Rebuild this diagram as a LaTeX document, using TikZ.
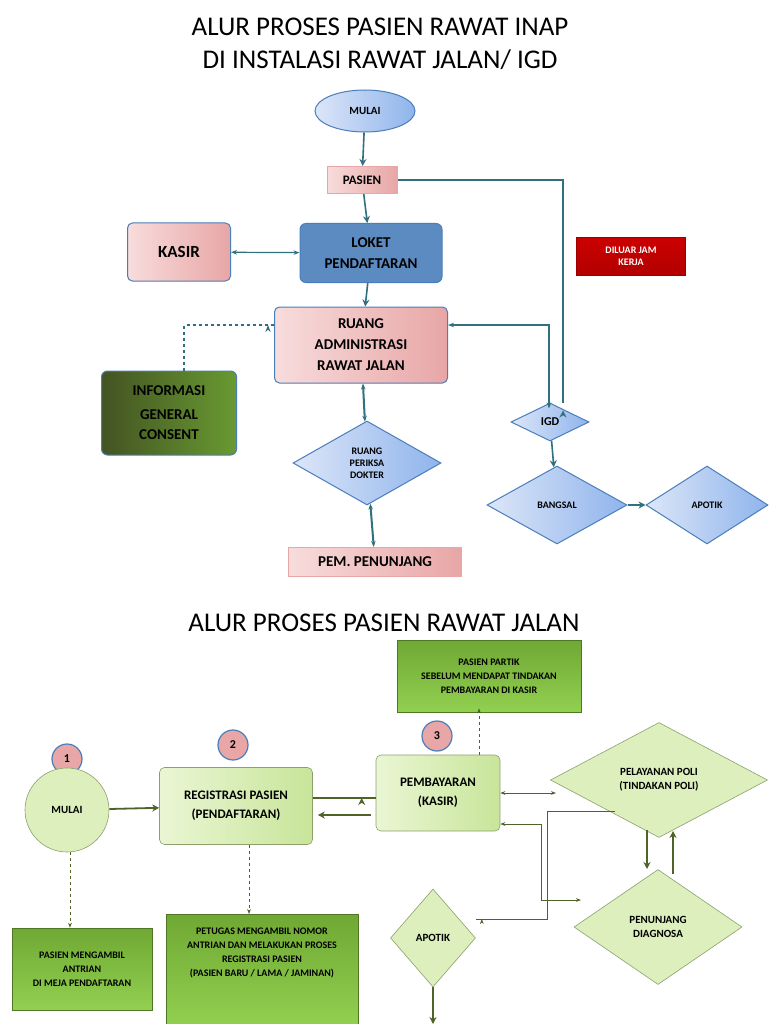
\documentclass[tikz,border=0pt]{standalone}
\usepackage{fontspec}
\setmainfont{Carlito}
\usetikzlibrary{shapes.geometric,arrows.meta}
\definecolor{teal1}{HTML}{31707F}
\definecolor{olv}{HTML}{4F6228}
\definecolor{bline}{HTML}{4A7EBB}
\definecolor{pinkA}{HTML}{F8DCDC}
\definecolor{pinkB}{HTML}{E8A6A6}
\definecolor{blueA}{HTML}{DCE6F8}
\definecolor{blueB}{HTML}{8FB4EC}
\definecolor{grA}{HTML}{EAF6D4}
\definecolor{grB}{HTML}{C8E59A}
\definecolor{dgA}{HTML}{6FA834}
\definecolor{dgB}{HTML}{92D050}
\begin{document}
\begin{tikzpicture}[x=1pt,y=-1pt,font=\bfseries,
  ta/.style={draw=teal1,line width=1.6pt,-{Stealth[length=7pt,width=7pt]}},
  tb/.style={draw=teal1,line width=1.2pt,{Stealth[length=6pt]}-{Stealth[length=6pt]}},
  ga/.style={draw=olv,line width=1.8pt,-{Stealth[length=7pt,width=7pt]}},
  gt/.style={draw=olv,line width=1pt,{Stealth[length=5pt]}-{Stealth[length=5pt]}},
  gd/.style={draw=olv,line width=0.8pt,dashed,-{Stealth[length=5pt]}},
  pk/.style={draw=bline,line width=1pt,left color=pinkA,right color=pinkB,align=center,rounded corners=5pt,inner sep=0pt},
  bd/.style={diamond,draw=bline,line width=1pt,left color=blueA,right color=blueB,align=center,inner sep=0pt,font=\bfseries\fontsize{10}{12}\selectfont},
  gb/.style={draw=grB!70!black,line width=0.6pt,left color=grA,right color=grB,align=center,rounded corners=5pt,inner sep=0pt},
  gdia/.style={diamond,draw=grB!70!black,line width=0.6pt,fill=grA!60!grB,align=center,inner sep=0pt,font=\bfseries\fontsize{11}{14}\selectfont},
  gbox/.style={draw=dgA!70!black,line width=0.6pt,top color=dgA,bottom color=dgB,align=center,inner sep=0pt,font=\bfseries\fontsize{10}{14}\selectfont},
  num/.style={circle,draw=bline,line width=1.2pt,fill=pinkB,minimum size=30pt,inner sep=0pt,font=\bfseries\fontsize{12}{14}\selectfont}]
\useasboundingbox (0,0) rectangle (768,1024);
\fill[white] (0,0) rectangle (768,1024);
% ===== top =====
\node[font=\fontsize{27}{33}\selectfont,align=center] (t1) at (380,44) {ALUR PROSES PASIEN RAWAT INAP\\DI INSTALASI RAWAT JALAN/ IGD};
\node[ellipse,draw=bline,line width=1pt,left color=blueA,right color=blueB,minimum width=100pt,minimum height=42pt,font=\bfseries\fontsize{11}{13}\selectfont] (mulai) at (365,111) {MULAI};
\node[pk,draw=pinkB,rounded corners=0pt,minimum width=70pt,minimum height=27pt,font=\bfseries\fontsize{13}{15}\selectfont] (pasien) at (362,180) {PASIEN};
\node[draw=bline,line width=1pt,fill=bline!90,rounded corners=6pt,minimum width=142pt,minimum height=59pt,align=center,font=\bfseries\fontsize{15}{21}\selectfont] (loket) at (371,253) {LOKET\\PENDAFTARAN};
\node[pk,minimum width=103pt,minimum height=58pt,font=\bfseries\fontsize{17}{20}\selectfont] (kasir) at (179,252) {KASIR};
\node[pk,minimum width=173pt,minimum height=76pt,font=\bfseries\fontsize{15}{21}\selectfont] (ruang) at (361,345) {RUANG\\ADMINISTRASI\\RAWAT JALAN};
\node[draw=bline,line width=1pt,left color=olv!85!black,right color=dgA!80!olv,rounded corners=6pt,minimum width=135pt,minimum height=84pt,align=center,font=\bfseries\fontsize{15}{20}\selectfont] (info) at (169,413) {INFORMASI\\[4pt]GENERAL\\CONSENT};
\node[bd,minimum width=148pt,minimum height=84pt] (periksa) at (367,463) {RUANG\\PERIKSA\\DOKTER};
\node[pk,draw=pinkB,rounded corners=0pt,minimum width=173pt,minimum height=29pt,font=\bfseries\fontsize{15}{17}\selectfont] (pem) at (375,562) {PEM. PENUNJANG};
\node[bd,minimum width=78pt,minimum height=38pt,font=\bfseries\fontsize{12}{14}\selectfont] (igd) at (550,422) {IGD};
\node[bd,minimum width=140pt,minimum height=78pt] (bangsal) at (557,505) {BANGSAL};
\node[bd,minimum width=122pt,minimum height=78pt] (apotik1) at (707,505) {APOTIK};
\node[draw=red!60!black,line width=0.6pt,top color=red!80!black,bottom color=red!70!black,minimum width=109pt,minimum height=38pt,align=center,text=white,font=\bfseries\fontsize{10}{12}\selectfont] (diluar) at (631,256) {DILUAR JAM\\KERJA};
\draw[ta] (mulai) -- (pasien);
\draw[ta] (pasien) -- (loket);
\draw[tb] (kasir) -- (loket);
\draw[ta] (loket) -- (ruang);
\draw[tb,line width=2pt] (ruang) -- (periksa);
\draw[tb,line width=2pt] (periksa) -- (pem);
\draw[teal1,line width=1.6pt,dashed,-{Stealth[length=7pt]}] (info.north -| 184,0) |- (ruang.west |- 0,325) ++(-6,0);
\draw[ta] (pasien.east) -| (igd.north -| 563,0) ++(0,8);
\draw[tb,line width=1.6pt] (ruang.east |- 0,325) -| ([xshift=-1pt,yshift=-6pt]igd.north);
\draw[ta] (igd) -- (bangsal);
\draw[ta] (bangsal) -- (apotik1);
% ===== bottom =====
\node[font=\fontsize{27}{33}\selectfont] (t2) at (384,623) {ALUR PROSES PASIEN RAWAT JALAN};
\node[gbox,minimum width=184pt,minimum height=72pt] (partik) at (489,676) {PASIEN PARTIK\\SEBELUM MENDAPAT TINDAKAN\\PEMBAYARAN DI KASIR};
\node[num] (n1) at (67,759) {1};
\node[num] (n2) at (233,745) {2};
\node[num] (n3) at (437,736) {3};
\node[circle,draw=grB!70!black,line width=0.6pt,fill=grA!60!grB,minimum size=84pt,inner sep=0pt,font=\bfseries\fontsize{11}{13}\selectfont] (m2) at (67,810) {MULAI};
\node[gb,minimum width=153pt,minimum height=77pt,font=\bfseries\fontsize{13}{19}\selectfont] (reg) at (236,806) {REGISTRASI PASIEN\\(PENDAFTARAN)};
\node[gb,minimum width=124pt,minimum height=76pt,font=\bfseries\fontsize{13}{19}\selectfont] (bayar) at (438,793) {PEMBAYARAN\\(KASIR)};
\node[gdia,minimum width=217pt,minimum height=115pt] (poli) at (659,780) {PELAYANAN POLI\\(TINDAKAN POLI)};
\node[gdia,minimum width=168pt,minimum height=115pt] (penunjang) at (658,927) {PENUNJANG\\DIAGNOSA};
\node[gdia,minimum width=85pt,minimum height=98pt] (apotik2) at (433,938) {APOTIK};
\node[gbox,minimum width=140pt,minimum height=82pt] (b1) at (82,969) {PASIEN MENGAMBIL\\ANTRIAN\\DI MEJA PENDAFTARAN};
\node[gbox,minimum width=192pt,minimum height=112pt,anchor=north] (b2) at (262,914) {PETUGAS MENGAMBIL NOMOR\\ANTRIAN DAN MELAKUKAN PROSES\\REGISTRASI PASIEN\\(PASIEN BARU / LAMA / JAMINAN)\\[22pt]};
\coordinate (end) at (433,1024);
\draw[ga] (m2) -- (reg);
\draw[ga] (reg.east |- 0,798) -- (bayar.west |- 0,798) ++(-14,0);
\draw[ga] (bayar.west |- 0,815) ++(-5,0) -- ([xshift=5pt]reg.east |- 0,815);
\draw[gd] (m2.south -| 70,0) -- (b1.north -| 70,0);
\draw[gd] (reg.south -| 249,0) -- (b2.north -| 249,0);
\draw[gd] (bayar.north -| 479,0) -- ([yshift=4pt]partik.south -| 479,0);
\draw[gt] (bayar.east |- 0,793) -- (556,793);
\draw[gt,{Stealth[length=5pt]}-{Stealth[length=5pt]}] (bayar.east |- 0,824) -| (541,900) -- (581,900);
\draw[olv,line width=1pt,-{Stealth[length=5pt]}] (615,811) -| (547,919) -- (apotik2.east |- 0,919) ++(6,0);
\draw[ga] (647,830) -- (647,869);
\draw[ga] (673,874) -- (673,831);
\draw[ga] (apotik2.south) -- (end);
\end{tikzpicture}
\end{document}
